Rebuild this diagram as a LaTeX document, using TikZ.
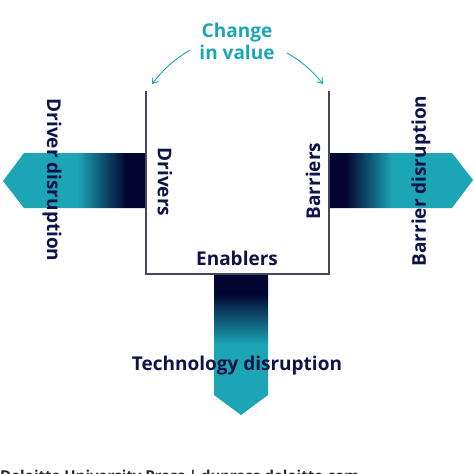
\documentclass[tikz,border=0pt]{standalone}
\usepackage{fontspec}
\setmainfont{Open Sans}
\usetikzlibrary{arrows.meta}
\definecolor{tealc}{RGB}{27,165,181}
\definecolor{navyc}{RGB}{4,6,50}
\definecolor{txtnavy}{RGB}{16,18,74}
\definecolor{boxline}{RGB}{70,70,95}
% TikZ maps the path's bounding box onto the 25bp..75bp part of a shading
\pgfdeclarehorizontalshading{shleft}{100bp}{color(0bp)=(tealc); color(51bp)=(tealc); color(68bp)=(navyc); color(100bp)=(navyc)}
\pgfdeclarehorizontalshading{shright}{100bp}{color(0bp)=(navyc); color(31bp)=(navyc); color(47bp)=(tealc); color(100bp)=(tealc)}
\pgfdeclareverticalshading{shdown}{100bp}{color(0bp)=(tealc); color(50bp)=(tealc); color(68bp)=(navyc); color(100bp)=(navyc)}
\tikzset{
  lbl/.style={font=\fontsize{19}{22}\selectfont\bfseries, text=txtnavy, inner sep=0pt},
  tealtxt/.style={font=\fontsize{19}{22}\selectfont\bfseries, text=tealc, inner sep=0pt, align=center},
  boxedge/.style={draw=boxline, line width=1.4pt},
  valarrow/.style={draw=tealc, line width=0.9pt, -{Straight Barb[length=5pt,width=7pt]}},
}
\begin{document}
\begin{tikzpicture}[x=1pt,y=-1pt]
\useasboundingbox (0,0) rectangle (474,474);
% arrows
\shade[shading=shleft] (146,153) -- (24,153) -- (3,181) -- (24,208) -- (146,208) -- cycle;
\shade[shading=shright] (329,153) -- (452,153) -- (473,180) -- (452,208) -- (329,208) -- cycle;
\shade[shading=shdown] (214,274) -- (268,274) -- (268,395) -- (241,415) -- (214,395) -- cycle;
% box
\coordinate (tl) at (146,91);
\coordinate (bl) at (146,274);
\coordinate (br) at (329,274);
\coordinate (tr) at (329,91);
\draw[boxedge] (tl) -- (bl) -- (br) -- (tr);
% labels
\node[tealtxt] (cv) at (237,41) {Change\\in value};
\coordinate (la) at (190,50);
\coordinate (lb) at (152,84);
\coordinate (ra) at (287,53);
\coordinate (rb) at (323,84);
\draw[valarrow] (la) to[bend right=10] (lb);
\draw[valarrow] (ra) to[bend left=10] (rb);
\node[lbl, rotate=-90] (drv) at (165,182) {Drivers};
\node[lbl, rotate=90] (bar) at (313,181) {Barriers};
\node[lbl, rotate=-90] (drd) at (52,180) {Driver disruption};
\node[lbl, rotate=90] (brd) at (421,181) {Barrier disruption};
\node[lbl, anchor=base] (en) at (237,265) {Enablers};
\node[lbl, anchor=base] (td) at (237,370) {Technology disruption};
\begin{scope}
\clip (0,0) rectangle (474,474);
\node[font=\fontsize{15}{17}\selectfont\bfseries, text=black!85, anchor=base west, inner sep=0pt] (src) at (0,481) {Deloitte University Press | dupress.deloitte.com};
\end{scope}
\end{tikzpicture}
\end{document}
